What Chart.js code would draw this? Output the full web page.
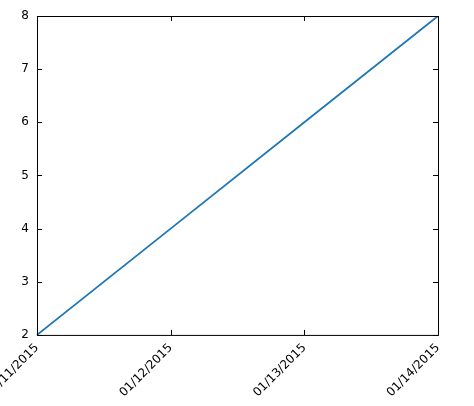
<!DOCTYPE html>
<html><head><meta charset="utf-8">
<script src="https://cdn.jsdelivr.net/npm/chart.js@4"></script>
<style>html,body{margin:0;padding:0;background:#fff}#w{width:474px;height:406px}</style>
</head><body><div id="w"><canvas id="c"></canvas></div>
<script>
const dates = ["01/11/2015","01/12/2015","01/13/2015","01/14/2015"];
const values = [2,4,6,8];
const yTicks = [2,3,4,5,6,7,8];

const frame = {
  id:'frame',
  afterDraw(chart){
    const {ctx, chartArea:a, scales:{x,y}} = chart;
    ctx.save();
    ctx.strokeStyle='#000'; ctx.lineWidth=1;
    ctx.strokeRect(a.left+0.5,a.top+0.5,a.right-a.left,a.bottom-a.top);
    const L=5;
    ctx.beginPath();
    x.ticks.forEach((t,i)=>{const p=Math.round(x.getPixelForTick(i))+0.5;
      ctx.moveTo(p,a.bottom);ctx.lineTo(p,a.bottom-L);ctx.moveTo(p,a.top);ctx.lineTo(p,a.top+L);});
    y.ticks.forEach((t,i)=>{const p=Math.round(y.getPixelForTick(i))+0.5;
      ctx.moveTo(a.left,p);ctx.lineTo(a.left+L,p);ctx.moveTo(a.right,p);ctx.lineTo(a.right-L,p);});
    ctx.stroke(); ctx.restore();
  }
};

new Chart(document.getElementById('c'),{
  type:'line',
  data:{labels:dates,datasets:[{data:values,borderColor:'#1f77b4',borderWidth:1.8,pointRadius:0,tension:0,fill:false}]},
  options:{
    responsive:true,maintainAspectRatio:false,animation:false,
    layout:{padding:{top:16,right:36,left:0,bottom:0}},
    plugins:{legend:{display:false},tooltip:{enabled:false}},
    scales:{
      x:{offset:false,grid:{display:false,drawTicks:false},border:{display:false},
        afterFit(s){s.paddingLeft=0;s.paddingRight=0;},
        ticks:{padding:6,minRotation:45,maxRotation:45,color:'#000',font:{family:'DejaVu Sans',size:12}}},
      y:{min:2,max:8,afterBuildTicks(s){s.ticks=yTicks.map(v=>({value:v}));},
        afterFit(s){s.width=37;},
        grid:{display:false,drawTicks:false},border:{display:false},
        ticks:{padding:8,color:'#000',font:{family:'DejaVu Sans',size:12}}}
    }
  },
  plugins:[frame]
});
</script></body></html>
